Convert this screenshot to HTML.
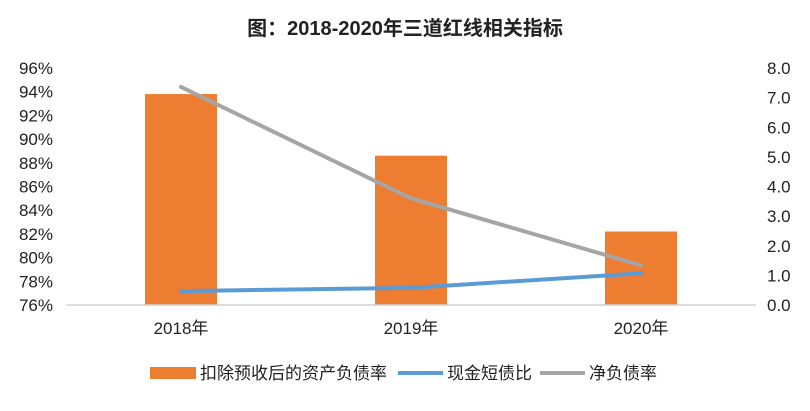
<!DOCTYPE html>
<html><head><meta charset="utf-8"><style>
body{margin:0;background:#fff;}
svg text{font-family:"Liberation Sans","Noto Sans CJK SC",sans-serif;fill:#222;}
</style></head><body>
<svg width="810" height="406" xmlns="http://www.w3.org/2000/svg">
<text x="405" y="35" text-anchor="middle" font-size="20" font-weight="bold">图：2018-2020年三道红线相关指标</text>
<g id="g"></g>
</svg>
<script>
const categories=["2018年","2019年","2020年"];
const debtRatio=[93.8,88.6,82.2];
const cashRatio=[0.47,0.58,1.07];
const netDebt=[7.36,3.6,1.34];
const leftTicks=[76,78,80,82,84,86,88,90,92,94,96];
const rightTicks=[0,1,2,3,4,5,6,7,8];
const NS="http://www.w3.org/2000/svg";
const g=document.getElementById('g');
const x0=66,x1=756,yTop=68,yBot=305;
const band=(x1-x0)/categories.length;
const xc=i=>x0+band*(i+0.5);
const yL=v=>yBot-(v-76)/20*(yBot-yTop);
const yR=v=>yBot-v/8*(yBot-yTop);
function el(t,a){const e=document.createElementNS(NS,t);for(const k in a)e.setAttribute(k,a[k]);g.appendChild(e);return e;}
leftTicks.forEach(v=>{const t=el('text',{x:53,y:yL(v)+6,'text-anchor':'end','font-size':17});t.textContent=v+'%';

});
rightTicks.forEach(v=>{const t=el('text',{x:767,y:yR(v)+6,'font-size':17});t.textContent=v.toFixed(1);

});
debtRatio.forEach((v,i)=>{const r=el('rect',{x:xc(i)-36,y:yL(v),width:72,height:yBot-yL(v),fill:'#ED7D31'});

});
const ax=el('line',{x1:x0,x2:x1,y1:yBot,y2:yBot,stroke:'#d0d0d0','stroke-width':1.5});


categories.forEach((c,i)=>{const t=el('text',{x:xc(i),y:334,'text-anchor':'middle','font-size':17});t.textContent=c;

});
function line(vals,color,name){const p=el('polyline',{points:vals.map((v,i)=>xc(i)+','+yR(v)).join(' '),fill:'none',stroke:color,'stroke-width':4,'stroke-linejoin':'round','stroke-linecap':'round'});

}
line(cashRatio,'#5B9BD5','line-cash-ratio');
line(netDebt,'#A5A5A5','line-net-debt');
const lg=[[150,'rect','#ED7D31','扣除预收后的资产负债率'],[398,'line','#5B9BD5','现金短债比'],[540,'line','#A5A5A5','净负债率']];
lg.forEach(([x,k,c,s])=>{
 if(k==='rect'){const r=el('rect',{x:x,y:367,width:46,height:12,fill:c});}
 else{const l=el('line',{x1:x,x2:x+45,y1:373,y2:373,stroke:c,'stroke-width':4});}
 const t=el('text',{x:(k==='rect'?x+50:x+49),y:379,'font-size':17});t.textContent=s;
 
 
});
</script>
</body></html>
